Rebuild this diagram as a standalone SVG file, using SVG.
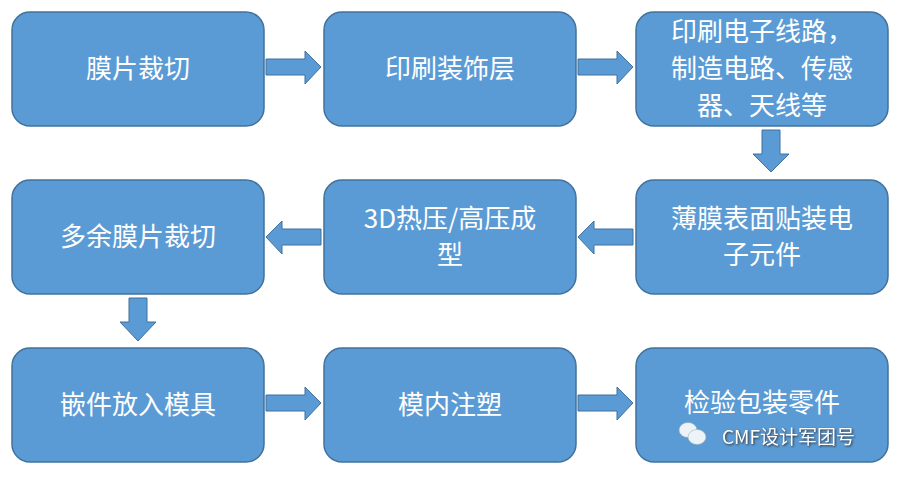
<svg xmlns="http://www.w3.org/2000/svg" width="905" height="477" viewBox="0 0 905 477">
<style>
.b{fill:#5b9bd5;stroke:#41719c;stroke-width:1.5}
.a{fill:#5b9bd5;stroke:#41719c;stroke-width:1}
.t{font-family:"Noto Sans CJK SC",sans-serif;font-size:26px;fill:#fff;text-anchor:middle}
.w{font-family:"Noto Sans CJK SC",sans-serif;font-size:19px;fill:#fff;filter:drop-shadow(1px 1px 1px #333)}
</style>
<rect width="905" height="477" fill="#fff"/>
<g id="n1"><rect class="b" x="12" y="12" width="252" height="114" rx="18"/><text class="t" x="138" y="78">膜片裁切</text></g>
<g id="n2"><rect class="b" x="324" y="12" width="252" height="114" rx="18"/><text class="t" x="450" y="78">印刷装饰层</text></g>
<g id="n3"><rect class="b" x="636" y="12" width="252" height="114" rx="18"/><text class="t" x="762" y="41">印刷电子线路，</text><text class="t" x="762" y="78">制造电路、传感</text><text class="t" x="762" y="115">器、天线等</text></g>
<g id="n4"><rect class="b" x="636" y="180" width="252" height="114" rx="18"/><text class="t" x="762" y="228">薄膜表面贴装电</text><text class="t" x="762" y="264">子元件</text></g>
<g id="n5"><rect class="b" x="324" y="180" width="252" height="114" rx="18"/><text class="t" x="450" y="228">3D热压/高压成</text><text class="t" x="450" y="264">型</text></g>
<g id="n6"><rect class="b" x="12" y="180" width="252" height="114" rx="18"/><text class="t" x="138" y="246">多余膜片裁切</text></g>
<g id="n7"><rect class="b" x="12" y="348" width="252" height="114" rx="18"/><text class="t" x="138" y="414">嵌件放入模具</text></g>
<g id="n8"><rect class="b" x="324" y="348" width="252" height="114" rx="18"/><text class="t" x="450" y="414">模内注塑</text></g>
<g id="n9"><rect class="b" x="636" y="348" width="252" height="114" rx="18"/><text class="t" x="762" y="412">检验包装零件</text>
<g fill="#eef3f8" stroke="#8aa" stroke-width="0.5"><ellipse cx="688" cy="430" rx="9" ry="7.5"/><ellipse cx="697" cy="437" rx="9" ry="7.5"/></g>
<text class="w" x="722" y="444">CMF设计军团号</text></g>
<g id="connectors">
<path class="a" d="M266,59H305V51L321,67L305,84V75H266Z"/>
<path class="a" d="M578,59H617V51L633,67L617,84V75H578Z"/>
<path class="a" d="M266,395H305V387L321,403L305,420V411H266Z"/>
<path class="a" d="M578,395H617V387L633,403L617,420V411H578Z"/>
<path class="a" d="M633,229H594V221L578,237L594,254V245H633Z"/>
<path class="a" d="M321,229H282V221L266,237L282,254V245H321Z"/>
<path class="a" d="M762,130V154H753L771,172L789,154H780V130Z"/>
<path class="a" d="M129,298V322H120L138,341L156,322H147V298Z"/>
</g>
</svg>
